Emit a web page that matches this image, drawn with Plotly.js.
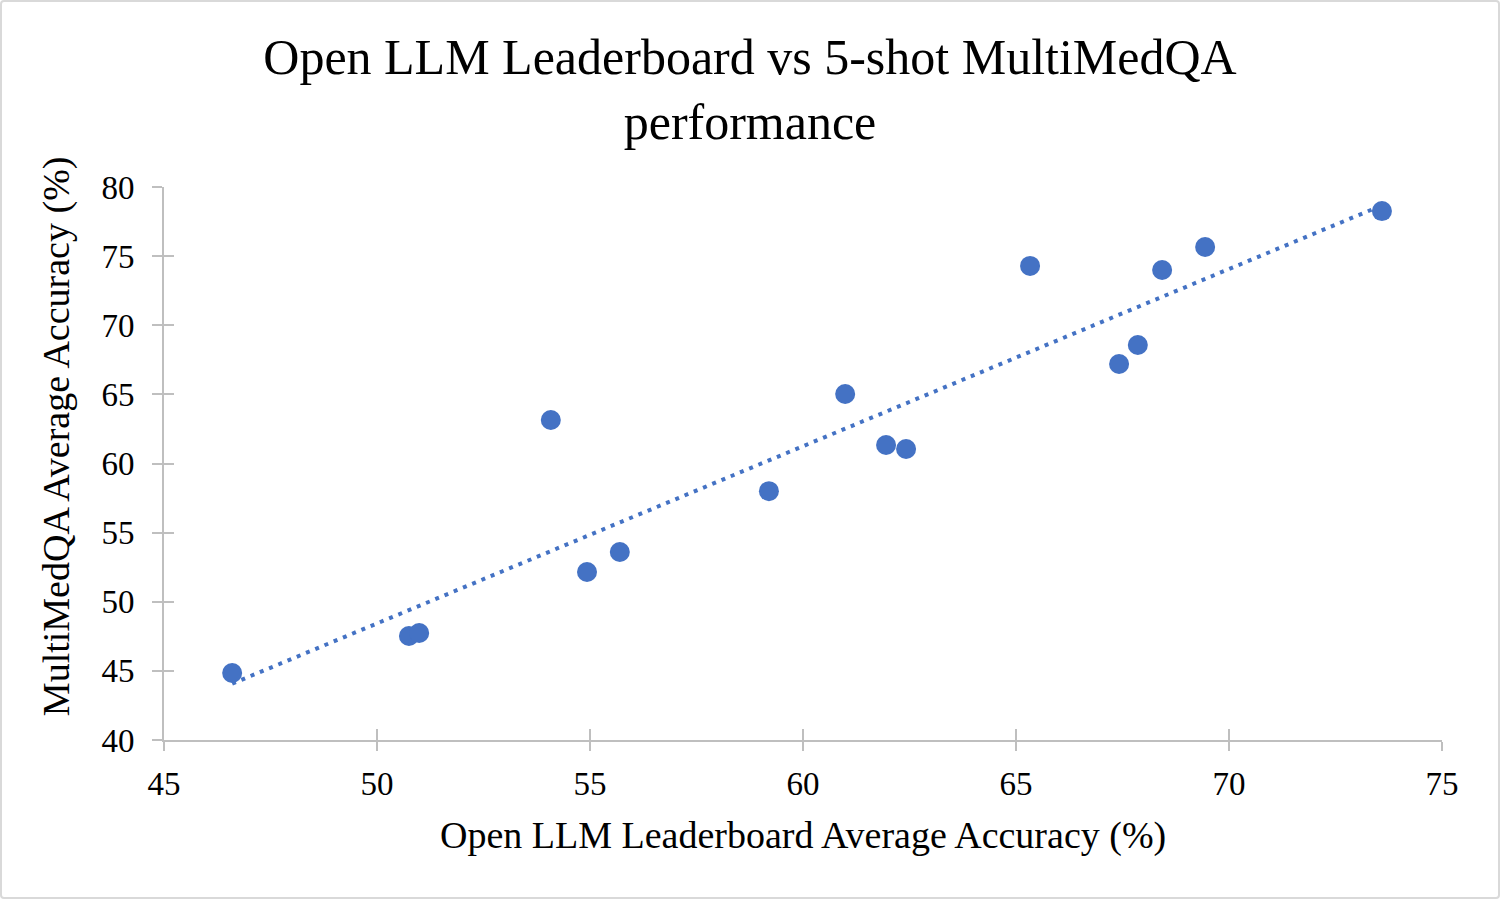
<!DOCTYPE html>
<html>
<head>
<meta charset="utf-8">
<script src="https://cdn.plot.ly/plotly-3.0.1.min.js"></script>
<style>
  html, body { margin: 0; padding: 0; background: #ffffff; }
  #wrap { position: relative; width: 1500px; height: 899px; }
  #chart { width: 1500px; height: 899px; }
  #frame { position: absolute; left: 0; top: 0; width: 1500px; height: 899px; box-sizing: border-box;
           border: 2px solid #d9d9d9; border-radius: 4px; pointer-events: none; }
</style>
</head>
<body>
<div id="wrap">
  <div id="chart"></div>
  <div id="frame"></div>
</div>
<script>
// Open LLM Leaderboard average accuracy (%)
var leaderboardAcc = [46.6, 50.75, 50.99, 54.08, 54.93, 55.70, 59.2, 60.99, 61.95, 62.42, 65.33, 67.42, 67.86, 68.43, 69.44, 73.59];
// 5-shot MultiMedQA average accuracy (%)
var multiMedQAAcc = [44.85, 47.52, 47.74, 63.15, 52.15, 53.6, 58.0, 65.03, 61.34, 61.05, 74.29, 67.2, 68.57, 74.0, 75.66, 78.26];
var tickVals = [45, 50, 55, 60, 65, 70, 75];
var yTickVals = [40, 45, 50, 55, 60, 65, 70, 75, 80];

var titleText = 'Open LLM Leaderboard vs 5-shot MultiMedQA<br>performance';
var xTitle = 'Open LLM Leaderboard Average Accuracy (%)';
var yTitle = 'MultiMedQA Average Accuracy (%)';

// Linear least-squares trendline computed from the data
var n = leaderboardAcc.length, sx = 0, sy = 0, sxx = 0, sxy = 0;
for (var i = 0; i < n; i++) {
  sx += leaderboardAcc[i]; sy += multiMedQAAcc[i];
  sxx += leaderboardAcc[i] * leaderboardAcc[i]; sxy += leaderboardAcc[i] * multiMedQAAcc[i];
}
var slope = (n * sxy - sx * sy) / (n * sxx - sx * sx);
var intercept = (sy - slope * sx) / n;
var xMin = Math.min.apply(null, leaderboardAcc), xMax = Math.max.apply(null, leaderboardAcc);
var trendX = [xMin, xMax];
var trendY = trendX.map(function (v) { return intercept + slope * v; });

var blue = '#4472C4';
var font = 'Liberation Serif, Times New Roman, serif';

var traces = [
  { x: trendX, y: trendY, mode: 'lines', type: 'scatter',
    line: { color: blue, width: 4, dash: '4px,6px' }, hoverinfo: 'skip', showlegend: false },
  { x: leaderboardAcc, y: multiMedQAAcc, mode: 'markers', type: 'scatter',
    marker: { color: blue, size: 20 }, showlegend: false },
  { x: [], y: [], xaxis: 'x2', yaxis: 'y2', type: 'scatter', mode: 'markers', showlegend: false, hoverinfo: 'skip' }
];

var axisCommon = { showgrid: false, zeroline: false, showline: true, linecolor: '#bfbfbf', linewidth: 2,
  tickcolor: '#bfbfbf', tickwidth: 2, tickfont: { family: font, size: 33, color: '#000000' } };

var layout = {
  width: 1500, height: 899,
  margin: { l: 164, r: 58, t: 187, b: 159 },
  paper_bgcolor: '#ffffff', plot_bgcolor: '#ffffff',
  title: { text: titleText, x: 0.5, xanchor: 'center', y: 0.9177, yanchor: 'middle', yref: 'container',
           font: { family: font, size: 50, color: '#000000' } },
  xaxis: Object.assign({}, axisCommon, { range: [45, 75], tickmode: 'array', tickvals: tickVals,
    ticks: 'outside', ticklen: 9, ticklabelstandoff: 4 }),
  yaxis: Object.assign({}, axisCommon, { range: [40, 80], tickmode: 'array', tickvals: yTickVals,
    ticks: 'outside', ticklen: 10, ticklabelstandoff: 11 }),
  xaxis2: { overlaying: 'x', range: [45, 75], tickmode: 'array', tickvals: tickVals, ticks: 'inside', ticklen: 11,
    tickcolor: '#bfbfbf', tickwidth: 2, showticklabels: false, showgrid: false, zeroline: false, showline: false, side: 'bottom' },
  yaxis2: { overlaying: 'y', range: [40, 80], tickmode: 'array', tickvals: yTickVals, ticks: 'inside', ticklen: 10,
    tickcolor: '#bfbfbf', tickwidth: 2, showticklabels: false, showgrid: false, zeroline: false, showline: false, side: 'left' },
  annotations: [
    { text: xTitle, xref: 'paper', yref: 'paper', x: 0.5, y: -0.172, xanchor: 'center', yanchor: 'middle',
      showarrow: false, font: { family: font, size: 38, color: '#000000' } },
    { text: yTitle, xref: 'paper', yref: 'paper', x: -0.084, y: 0.5488, xanchor: 'center', yanchor: 'middle',
      textangle: -90, showarrow: false, font: { family: font, size: 38, color: '#000000' } }
  ]
};

Plotly.newPlot('chart', traces, layout, { displayModeBar: false, staticPlot: true });
</script>
</body>
</html>
